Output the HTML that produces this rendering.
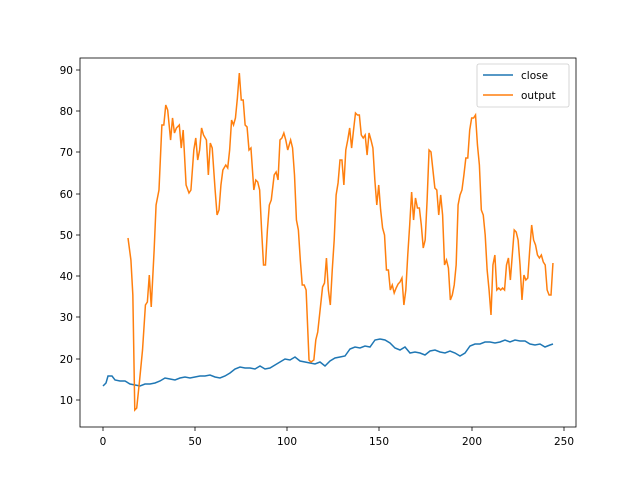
<!DOCTYPE html>
<html><head><meta charset="utf-8"><style>html,body{margin:0;padding:0;background:#fff}svg{display:block}</style></head>
<body>
<svg width="640" height="480" xmlns="http://www.w3.org/2000/svg" font-family="WenQuanYi Zen Hei, DejaVu Sans, sans-serif" font-size="10.5">
<rect width="640" height="480" fill="#fff"/>
<g stroke="#000" stroke-width="0.8">
<line x1="103" y1="427" x2="103" y2="431"/><line x1="195" y1="427" x2="195" y2="431"/><line x1="287" y1="427" x2="287" y2="431"/><line x1="379" y1="427" x2="379" y2="431"/><line x1="472" y1="427" x2="472" y2="431"/><line x1="564" y1="427" x2="564" y2="431"/>
<line x1="76" y1="400" x2="80" y2="400"/><line x1="76" y1="359" x2="80" y2="359"/><line x1="76" y1="317" x2="80" y2="317"/><line x1="76" y1="276" x2="80" y2="276"/><line x1="76" y1="235" x2="80" y2="235"/><line x1="76" y1="194" x2="80" y2="194"/><line x1="76" y1="152" x2="80" y2="152"/><line x1="76" y1="111" x2="80" y2="111"/><line x1="76" y1="70" x2="80" y2="70"/>
</g>
<g text-anchor="middle"><text x="103" y="445">0</text><text x="195" y="445">50</text><text x="287" y="445">100</text><text x="379" y="445">150</text><text x="472" y="445">200</text><text x="564" y="445">250</text></g>
<g text-anchor="end"><text x="73" y="404">10</text><text x="73" y="363">20</text><text x="73" y="321">30</text><text x="73" y="280">40</text><text x="73" y="239">50</text><text x="73" y="198">60</text><text x="73" y="156">70</text><text x="73" y="115">80</text><text x="73" y="74">90</text></g>
<polyline fill="none" stroke="#1f77b4" stroke-width="1.5" points="103,386 106,383 108,376 112,376 115,380 120,381 125,381 130,384 135,385 140,386 145,384 150,384 155,383 160,381 165,378 170,379 175,380 180,378 185,377 190,378 195,377 200,376 205,376 210,375 215,377 220,378 225,376 230,373 235,369 240,367 245,368 250,368 255,369 260,366 265,369 270,368 275,365 280,362 285,359 290,360 295,357 300,361 305,362 310,363 315,364 320,362 325,366 330,361 335,358 340,357 345,356 350,349 355,347 360,348 365,346 370,347 375,340 380,339 385,340 390,343 395,348 400,350 405,347 410,353 415,352 420,353 425,355 430,351 435,350 440,352 445,353 450,351 455,353 460,356 465,353 470,346 475,344 480,344 485,342 490,342 495,343 500,342 505,340 510,342 515,340 520,341 525,341 530,344 535,345 540,344 545,347 550,345 553,344"/>
<polyline fill="none" stroke="#ff7f0e" stroke-width="1.5" vector-effect="non-scaling-stroke" transform="matrix(0.968,0,0,1,4.1,0)" points="128,238 131,260 133,295 135,410 137,408 140,380 143,350 146,305 148,302 150,275 152,307 155,250 157,205 160,190 163,125 165,125 167,105 169,110 172,140 174,118 176,133 178,128 181,125 183,148 185,130 188,185 191,193 193,190 196,150 198,138 200,160 202,150 204,128 206,135 209,140 211,175 213,143 215,148 218,190 220,215 222,210 224,185 226,170 229,165 231,168 233,150 235,120 237,125 239,118 241,98 243,73 245,100 247,100 249,125 251,127 253,150 255,148 258,190 260,180 262,182 264,190 266,230 268,265 270,265 272,230 274,205 276,200 279,175 281,172 283,180 285,140 287,138 289,133 291,140 293,150 296,140 298,148 300,175 302,220 304,230 306,260 308,285 310,285 312,290 315,360 317,362 320,360 322,340 324,332 327,305 329,287 331,283 333,258 335,290 337,305 339,270 341,240 343,195 345,183 347,160 349,160 351,185 353,150 355,140 357,128 359,148 361,130 363,113 365,115 367,115 369,135 371,138 373,135 375,155 377,133 379,140 381,148 383,180 385,205 387,185 389,210 391,228 393,235 395,270 397,270 399,290 401,285 403,293 405,288 407,284 409,282 411,278 413,305 415,290 417,255 419,225 421,192 423,220 425,198 427,208 429,208 431,225 433,248 435,240 437,200 439,150 441,152 443,170 445,188 447,190 449,215 451,195 453,215 455,265 457,260 459,268 461,300 463,295 465,285 467,265 469,205 471,195 473,190 475,175 477,158 479,158 481,130 483,118 485,118 487,115 489,145 491,165 493,210 495,215 497,235 499,270 501,290 503,315 505,265 507,255 509,290 511,288 513,290 515,288 517,290 519,265 521,258 523,280 525,255 527,230 529,232 531,240 533,265 535,300 537,275 539,280 541,278 543,250 545,225 547,240 549,245 551,255 553,258 555,255 557,262 559,265 561,290 563,295 565,295 567,263"/>
<rect x="80" y="58" width="496" height="369" fill="none" stroke="#000" stroke-width="0.8"/>
<rect x="477" y="64" width="92" height="43" rx="2" fill="#fff" fill-opacity="0.8" stroke="#ccc" stroke-width="0.8"/>
<line x1="483" y1="75" x2="513" y2="75" stroke="#1f77b4" stroke-width="1.5"/>
<line x1="483" y1="95" x2="513" y2="95" stroke="#ff7f0e" stroke-width="1.5"/>
<text x="521" y="79">close</text>
<text x="521" y="99">output</text>
</svg>
</body></html>
